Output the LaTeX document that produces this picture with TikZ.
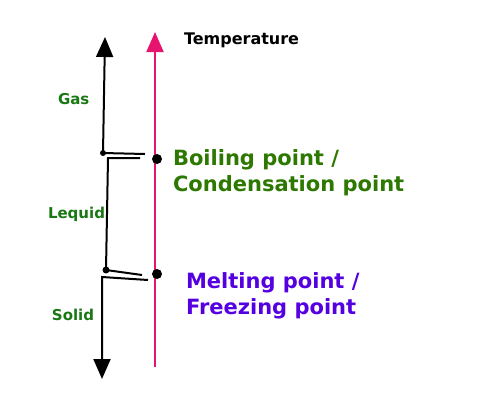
\documentclass[tikz,border=0pt]{standalone}
\usepackage{fontspec}
\setmainfont{DejaVu Sans}
\usetikzlibrary{arrows.meta,positioning}
\definecolor{phasegreen}{RGB}{25,120,20}
\definecolor{pointgreen}{RGB}{45,120,0}
\definecolor{pointblue}{RGB}{85,0,225}
\definecolor{tempred}{RGB}{230,20,110}
\begin{document}
\begin{tikzpicture}[
                x=1pt, y=-1pt,
                line width = 2pt,
                phase/.style = {anchor=base west, inner sep=0pt, font=\bfseries\fontsize{15}{18}\selectfont, text=phasegreen},
                pt/.style = {anchor=base west, inner sep=0pt, font=\bfseries\fontsize{21}{26}\selectfont},
                head/.style = {-{Triangle[length=20pt, width=17pt]}}
                    ]
                \useasboundingbox (0,0) rectangle (480,400);
                % phase line
                \coordinate (gtop) at (105,37);
                \coordinate (gbot) at (103,153);
                \coordinate (b1) at (145,154);
                \coordinate (b2e) at (140,158);
                \coordinate (b2s) at (108,158);
                \coordinate (mbot) at (106,270);
                \coordinate (m1) at (142,275);
                \coordinate (m2e) at (148,280);
                \coordinate (m2s) at (102,277);
                \coordinate (stip) at (102,379);
                \draw[head] (gbot) -- (gtop);
                \draw (gbot) -- (b1);
                \draw (b2e) -- (b2s) -- (mbot);
                \draw (mbot) -- (m1);
                \draw[head] (m2e) -- (m2s) -- (stip);
                \fill (gbot) circle (3pt);
                \fill (mbot) circle (3.5pt);
                % temperature axis
                \coordinate (tbot) at (155,367);
                \coordinate (ttop) at (155,32);
                \draw[head, tempred] (tbot) -- (ttop);
                \coordinate (boil) at (157,159);
                \coordinate (melt) at (157,274);
                \fill (boil) circle (5pt);
                \fill (melt) circle (5pt);
                % labels
                \node (temp) [anchor=base west, inner sep=0pt, font=\bfseries\fontsize{16}{19}\selectfont] at (183,44) {Temperature};
                \node (gas) [phase] at (57,104) {Gas};
                \node (liq) [phase] at (47,218) {Lequid};
                \node (sol) [phase] at (51,320) {Solid};
                \node (bp) [pt, text=pointgreen] at (172,165) {Boiling point /};
                \node (cp) [pt, text=pointgreen] at (172,191) {Condensation point};
                \node (mp) [pt, text=pointblue] at (185,288) {Melting point /};
                \node (fp) [pt, text=pointblue] at (185,314) {Freezing point};
\end{tikzpicture}
\end{document}
